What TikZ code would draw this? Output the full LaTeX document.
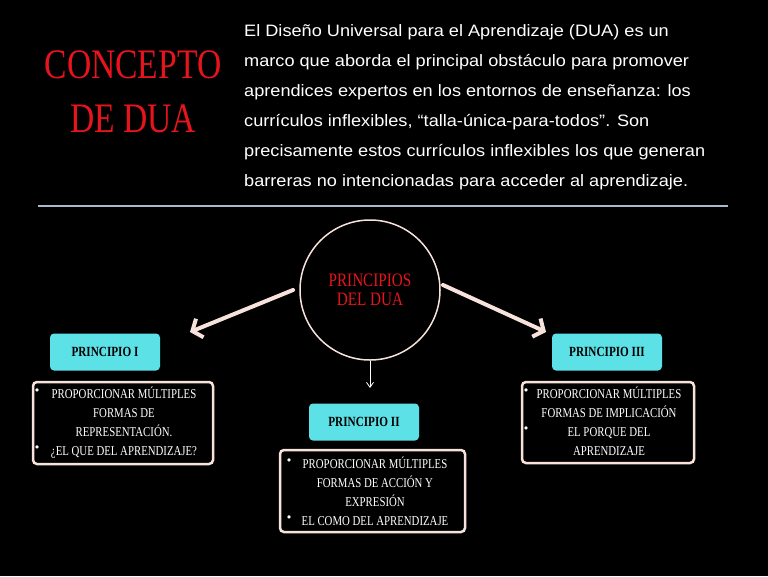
\documentclass[tikz,border=0pt]{standalone}
\usepackage{fontspec}
\setmainfont{Liberation Serif}
\newfontfamily\bodyfont[FakeStretch=1.1]{Liberation Sans}
\newfontfamily\narrowserif[FakeStretch=0.8]{Liberation Serif}
\newfontfamily\dejafont{DejaVu Sans}
\definecolor{cyanbox}{HTML}{5CE1E6}
\definecolor{pale}{HTML}{F7E3DC}
\definecolor{sep}{HTML}{A9B8CC}
\definecolor{redt}{HTML}{E8141C}
\tikzset{
 cbox/.style={fill=cyanbox, rounded corners=4pt, minimum width=110pt, minimum height=37pt, font=\narrowserif\fontsize{14}{15}\selectfont\bfseries, text=black},
 wbox/.style={draw=pale, line width=2.5pt, rounded corners=4pt, fill=black},
 wtxt/.style={text=white, align=center, font=\narrowserif\fontsize{13.5}{19}\selectfont},
 bul/.style={text=white, font=\fontsize{11}{11}\selectfont},
 bigarrow/.style={draw=pale, line width=4pt, line cap=round, -{Straight Barb[length=8pt,width=20pt,line width=4pt]}},
}
\usetikzlibrary{arrows.meta}
\begin{document}
\begin{tikzpicture}[x=1pt,y=-1pt]
\fill[black] (0,0) rectangle (768,576);
\useasboundingbox (0,0) rectangle (768,576);
\node[text=redt, align=center, font=\narrowserif\fontsize{42}{54}\selectfont] (title) at (133,92) {CONCEPTO\\DE DUA};
\node[text=white, anchor=north west, align=left, font=\bodyfont\fontsize{16.5}{30}\selectfont, inner sep=0pt] (para) at (244,24) {El Diseño Universal para el Aprendizaje (DUA) es un\\marco que aborda el principal obstáculo para promover\\aprendices expertos en los entornos de enseñanza: los\\currículos inflexibles, “talla-única-para-todos”. Son\\precisamente estos currículos inflexibles los que generan\\barreras no intencionadas para acceder al aprendizaje.};
\coordinate (sl) at (38,206); \coordinate (sr) at (728,206);
\draw[sep, line width=2.5pt] (sl) -- (sr);
\node[circle, draw=pale, line width=1.5pt, minimum size=140pt, text=redt, align=center, font=\narrowserif\fontsize{19}{19}\selectfont] (circ) at (370,290) {PRINCIPIOS\\DEL DUA};
\node[cbox] (p1) at (105,352) {PRINCIPIO I};
\node[cbox] (p2) at (364,422) {PRINCIPIO II};
\node[cbox] (p3) at (607,352) {PRINCIPIO III};
\coordinate (a1) at (293,290); \coordinate (a1e) at (190,332);
\coordinate (a3) at (443,285); \coordinate (a3e) at (546,332);
\draw[bigarrow] (a1) -- (a1e);
\draw[bigarrow] (a3) -- (a3e);
\coordinate (dtip) at (370,388);
\draw[white, line width=0.8pt, -{Straight Barb[length=5pt,width=7pt]}] (circ.south) -- (dtip);
\draw[wbox] (33,382) rectangle (213,464);
\node[wtxt] (t1) at (124,423) {PROPORCIONAR MÚLTIPLES\\FORMAS DE\\REPRESENTACIÓN.\\¿EL QUE DEL APRENDIZAJE?};
\node[bul] (b1a) at (37,392) {\dejafont •}; \node[bul] (b1b) at (37,449) {\dejafont •};
\draw[wbox] (280,450) rectangle (465,532);
\node[wtxt] (t2) at (375,491) {PROPORCIONAR MÚLTIPLES\\FORMAS DE ACCIÓN Y\\EXPRESIÓN\\EL COMO DEL APRENDIZAJE};
\node[bul] (b2a) at (289,462) {\dejafont •}; \node[bul] (b2b) at (289,519) {\dejafont •};
\draw[wbox] (522,382) rectangle (694,463);
\node[wtxt] (t3) at (609,421) {PROPORCIONAR MÚLTIPLES\\FORMAS DE IMPLICACIÓN\\EL PORQUE DEL\\APRENDIZAJE};
\node[bul] (b3a) at (526,392) {\dejafont •}; \node[bul] (b3b) at (526,430) {\dejafont •};
\end{tikzpicture}
\end{document}
